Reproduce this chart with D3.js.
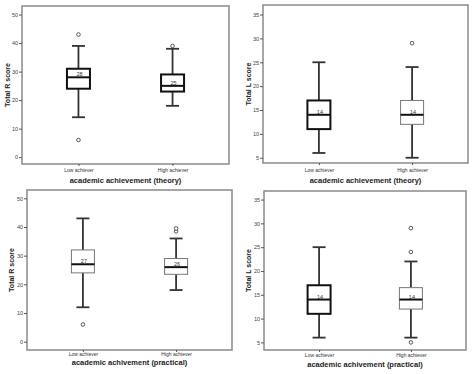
<!DOCTYPE html>
<html>
<head>
<meta charset="utf-8">
<script src="https://cdn.jsdelivr.net/npm/d3@7"></script>
<style>
  body { margin: 0; background: #fff; }
  text { font-family: "Liberation Sans", Arial, sans-serif; }
</style>
</head>
<body>
<div id="container"></div>
<script>
var width = 474, height = 374;

// groups on the x axis
var groups = ["Low achiever", "High achiever"];

// five-number summaries [min, q1, median, q3, max] per group
var rTheory = [[14, 24, 28, 31, 39], [18, 23, 25, 29, 38]];
var lTheory = [[6, 11, 14, 17, 25], [5, 12, 14, 17, 24]];
var rPractical = [[12, 24, 27, 32, 43], [18, 23.5, 26, 29, 36]];
var lPractical = [[6, 11, 14, 17, 25], [6, 12, 14, 16.5, 22]];

// outliers per group
var rTheoryOut = [[43, 6], [39]];
var lTheoryOut = [[], [29]];
var rPracticalOut = [[6], [38.5, 39.5]];
var lPracticalOut = [[], [29, 24, 5]];

// tick labels
var rTicks = [0, 10, 20, 30, 40, 50];
var lTicks = [5, 10, 15, 20, 25, 30, 35];

var panels = [
  {box: [22, 6, 229, 164], dom: [-2.4, 53], ticks: rTicks, stats: rTheory, out: rTheoryOut,
   ylab: "Total R score", xlab: "academic achievement (theory)", ylx: 8, xly: 183, cly: 172,
   heavy: [true, true]},
  {box: [263, 5, 468, 163], dom: [3.9, 37], ticks: lTicks, stats: lTheory, out: lTheoryOut,
   ylab: "Total L score", xlab: "academic achievement (theory)", ylx: 249, xly: 183, cly: 172,
   heavy: [true, false]},
  {box: [27, 190, 232, 350], dom: [-2.9, 52.9], ticks: rTicks, stats: rPractical, out: rPracticalOut,
   ylab: "Total R score", xlab: "academic achivement (practical)", ylx: 12, xly: 365, cly: 356,
   heavy: [false, false]},
  {box: [264, 191, 466, 350], dom: [3.4, 36.8], ticks: lTicks, stats: lPractical, out: lPracticalOut,
   ylab: "Total L score", xlab: "academic achivement (practical)", ylx: 249, xly: 367, cly: 357,
   heavy: [true, false]}
];

var svg = d3.select("#container").append("svg")
    .attr("width", width)
    .attr("height", height);

panels.forEach(function (p) {
  var x0 = p.box[0], y0 = p.box[1], x1 = p.box[2], y1 = p.box[3];
  var g = svg.append("g");

  var x = d3.scalePoint().domain(groups).range([x0, x1]).padding(0.6);
  var y = d3.scaleLinear().domain(p.dom).range([y1, y0]);

  // frame
  g.append("rect")
    .attr("x", x0).attr("y", y0)
    .attr("width", x1 - x0).attr("height", y1 - y0)
    .attr("fill", "none").attr("stroke", "#8a8a8a").attr("stroke-width", 1.5);

  // y axis
  var yAxis = g.append("g")
    .attr("transform", "translate(" + x0 + ",0)")
    .call(d3.axisLeft(y).tickValues(p.ticks).tickSize(3).tickPadding(1));
  yAxis.select(".domain").remove();
  yAxis.selectAll("line").attr("stroke", "#555");
  yAxis.selectAll("text").attr("font-size", 5.5).attr("fill", "#444")
    .style("font-family", "'Liberation Sans', Arial, sans-serif");

  // x axis
  var xAxis = g.append("g")
    .attr("transform", "translate(0," + y1 + ")")
    .call(d3.axisBottom(x).tickSize(2).tickPadding(2));
  xAxis.select(".domain").remove();
  xAxis.selectAll("line").attr("stroke", "#555");
  xAxis.selectAll("text").attr("font-size", 5).attr("fill", "#333")
    .attr("dy", null).attr("y", p.cly - y1)
    .style("font-family", "'Liberation Sans', Arial, sans-serif");

  // axis titles
  g.append("text")
    .attr("transform", "translate(" + p.ylx + "," + ((y0 + y1) / 2) + ") rotate(-90)")
    .attr("text-anchor", "middle").attr("dy", "0.35em")
    .attr("font-size", 7).attr("font-weight", "bold").attr("fill", "#222")
    .text(p.ylab);
  g.append("text")
    .attr("x", (x0 + x1) / 2).attr("y", p.xly)
    .attr("text-anchor", "middle")
    .attr("font-size", 7.5).attr("font-weight", "bold").attr("fill", "#222")
    .text(p.xlab);

  var bw = 23, cap = 11;

  groups.forEach(function (grp, i) {
    var s = p.stats[i];
    var cx = x(grp);
    var heavy = p.heavy[i];
    var boxCol = heavy ? "#111" : "#777";
    var boxW = heavy ? 2 : 1;

    // whiskers
    g.append("line").attr("x1", cx).attr("x2", cx).attr("y1", y(s[0])).attr("y2", y(s[1]))
      .attr("stroke", "#333").attr("stroke-width", 1.8);
    g.append("line").attr("x1", cx).attr("x2", cx).attr("y1", y(s[3])).attr("y2", y(s[4]))
      .attr("stroke", "#333").attr("stroke-width", 1.8);
    [s[0], s[4]].forEach(function (v) {
      g.append("line").attr("x1", cx - cap / 2 - 1).attr("x2", cx + cap / 2 + 1)
        .attr("y1", y(v)).attr("y2", y(v))
        .attr("stroke", "#333").attr("stroke-width", 1.8);
    });

    // box
    g.append("rect")
      .attr("x", cx - bw / 2).attr("y", y(s[3]))
      .attr("width", bw).attr("height", y(s[1]) - y(s[3]))
      .attr("fill", "#fff").attr("stroke", boxCol).attr("stroke-width", boxW);

    // median
    g.append("line").attr("x1", cx - bw / 2).attr("x2", cx + bw / 2)
      .attr("y1", y(s[2])).attr("y2", y(s[2]))
      .attr("stroke", "#111").attr("stroke-width", 2);

    g.append("text")
      .attr("x", cx + 1).attr("y", y(s[2]) - 1)
      .attr("text-anchor", "middle")
      .attr("font-size", 5.5).attr("fill", "#333")
      .text(s[2]);

    // outliers
    p.out[i].forEach(function (v) {
      g.append("circle")
        .attr("cx", cx).attr("cy", y(v)).attr("r", 1.8)
        .attr("fill", "#fff").attr("stroke", "#444").attr("stroke-width", 0.9);
    });
  });
});
</script>
</body>
</html>
